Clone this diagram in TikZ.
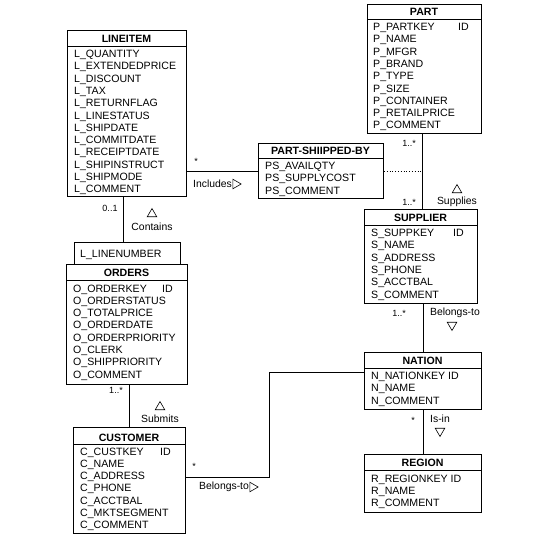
\documentclass[tikz,border=0pt]{standalone}
\usepackage{fontspec}
\setmainfont{Liberation Sans}
\usetikzlibrary{shapes.geometric}

\tikzset{
  entity/.style={draw, line width=0.9pt, anchor=north west, inner sep=0pt},
  header/.style={font=\fontsize{10.6}{12}\selectfont\bfseries, anchor=base, inner sep=0pt},
  field/.style={font=\fontsize{10.6}{12}\selectfont, anchor=base west, inner sep=0pt},
  role/.style={font=\fontsize{10.4}{12}\selectfont, inner sep=0pt},
  mult/.style={font=\fontsize{9}{10}\selectfont, inner sep=0pt},
  tri/.style={draw, line width=0.6pt, regular polygon, regular polygon sides=3, minimum size=11pt, inner sep=0pt},
  link/.style={line width=0.8pt}
}

\begin{document}
\begin{tikzpicture}[x=1pt, y=-1pt]
    \useasboundingbox (0,0) rectangle (541,554);
    % LINEITEM
    \node[entity, minimum width=119pt, minimum height=166pt] (lineitem) at (67,30) {};
    \draw[line width=0.9pt] (67,46) -- (186,46);
    \node[header] at (126.5,42) {LINEITEM};
    \foreach \f [count=\i from 0] in {L\_QUANTITY, L\_EXTENDEDPRICE, L\_DISCOUNT, L\_TAX, L\_RETURNFLAG, L\_LINESTATUS, L\_SHIPDATE, L\_COMMITDATE, L\_RECEIPTDATE, L\_SHIPINSTRUCT, L\_SHIPMODE, L\_COMMENT}
    \node[field] at (74,{57.5+12.3*\i}) {\f};
    % PART
    \node[entity, minimum width=114pt, minimum height=129pt] (part) at (367,4) {};
    \draw[line width=0.9pt] (367,19) -- (481,19);
    \node[header] at (424,15) {PART};
    \foreach \f [count=\i from 0] in {P\_PARTKEY, P\_NAME, P\_MFGR, P\_BRAND, P\_TYPE, P\_SIZE, P\_CONTAINER, P\_RETAILPRICE, P\_COMMENT}
    \node[field] at (373,{30.5+12.3*\i}) {\f};
    \node[field] at (458,30.5) {ID};
    % PART-SHIIPPED-BY
    \node[entity, minimum width=125pt, minimum height=55pt] (psb) at (258,143) {};
    \draw[line width=0.9pt] (258,158) -- (383,158);
    \node[header] at (320.5,154.5) {PART-SHIIPPED-BY};
    \foreach \f [count=\i from 0] in {PS\_AVAILQTY, PS\_SUPPLYCOST, PS\_COMMENT}
    \node[field] at (265,{169.5+12.3*\i}) {\f};
    % SUPPLIER
    \node[entity, minimum width=113pt, minimum height=94pt] (supplier) at (364,209) {};
    \draw[line width=0.9pt] (364,225) -- (477,225);
    \node[header] at (420.5,221) {SUPPLIER};
    \foreach \f [count=\i from 0] in {S\_SUPPKEY, S\_NAME, S\_ADDRESS, S\_PHONE, S\_ACCTBAL, S\_COMMENT}
    \node[field] at (371,{236.5+12.3*\i}) {\f};
    \node[field] at (453,236.5) {ID};
    % L_LINENUMBER
    \node[entity, minimum width=106pt, minimum height=22pt] (linenumber) at (74,242) {};
    \node[field] at (80,257) {L\_LINENUMBER};
    % ORDERS
    \node[entity, minimum width=121pt, minimum height=120pt] (orders) at (66,264) {};
    \draw[line width=0.9pt] (66,280) -- (187,280);
    \node[header] at (126.5,276.5) {ORDERS};
    \foreach \f [count=\i from 0] in {O\_ORDERKEY, O\_ORDERSTATUS, O\_TOTALPRICE, O\_ORDERDATE, O\_ORDERPRIORITY, O\_CLERK, O\_SHIPPRIORITY, O\_COMMENT}
    \node[field] at (73,{292+12.3*\i}) {\f};
    \node[field] at (162,292) {ID};
    % CUSTOMER
    \node[entity, minimum width=112pt, minimum height=106pt] (customer) at (73,427) {};
    \draw[line width=0.9pt] (73,444) -- (185,444);
    \node[header] at (129,441) {CUSTOMER};
    \foreach \f [count=\i from 0] in {C\_CUSTKEY, C\_NAME, C\_ADDRESS, C\_PHONE, C\_ACCTBAL, C\_MKTSEGMENT, C\_COMMENT}
    \node[field] at (80,{455+12.3*\i}) {\f};
    \node[field] at (160,455) {ID};
    % NATION
    \node[entity, minimum width=117pt, minimum height=57pt] (nation) at (364,352) {};
    \draw[line width=0.9pt] (364,368) -- (481,368);
    \node[header] at (422.5,364.5) {NATION};
    \foreach \f [count=\i from 0] in {N\_NATIONKEY ID, N\_NAME, N\_COMMENT}
    \node[field] at (371,{379.5+12.3*\i}) {\f};
    % REGION
    \node[entity, minimum width=117pt, minimum height=58pt] (region) at (364,454) {};
    \draw[line width=0.9pt] (364,470) -- (481,470);
    \node[header] at (422.5,466.5) {REGION};
    \foreach \f [count=\i from 0] in {R\_REGIONKEY ID, R\_NAME, R\_COMMENT}
    \node[field] at (371,{482+12.3*\i}) {\f};

    % associations
    \coordinate (ps) at ([xshift=-2pt]part.south);
    \draw[link] (psb.west) -- (psb.west -| lineitem.east);
    \draw[link] (ps) -- (ps |- supplier.north);
    \draw[link, dotted] (psb.east) -- (psb.east -| ps);
    \draw[link] ([xshift=-4pt]linenumber.north) -- ([xshift=-4pt]linenumber.north |- lineitem.south);
    \draw[link] (customer.north) -- (customer.north |- orders.south);
    \draw[link] (nation.north) -- (nation.north |- supplier.south);
    \draw[link] (region.north) -- (region.north |- nation.south);
    \coordinate (bend) at (269,372);
    \draw[link] ([yshift=3pt]customer.east) -| (bend) -- (bend -| nation.west);

    % labels
    \node[mult] at (196,161) {*};
    \node[role, anchor=west] (inc) at (193,184) {Includes};
    \node[tri, shape border rotate=-90] at ([xshift=3.5pt]inc.east) {};
    \node[mult] at (409,143) {1..*};
    \node[mult] at (409,202) {1..*};
    \node[tri] at (457,190) {};
    \node[role] at (457,202) {Supplies};
    \node[mult] at (110,208) {0..1};
    \node[tri] at (152,214) {};
    \node[role] at (152,227) {Contains};
    \node[mult] at (116,390) {1..*};
    \node[tri] at (160,407) {};
    \node[role] at (160,419) {Submits};
    \node[mult] at (194,466) {*};
    \node[role, anchor=west] (belongs) at (199,487) {Belongs-to};
    \node[tri, shape border rotate=-90] at ([xshift=3.5pt]belongs.east) {};
    \node[mult] at (399,313) {1..*};
    \node[role] at (455,313) {Belongs-to};
    \node[tri, shape border rotate=180] at (452,325) {};
    \node[mult] at (413,420) {*};
    \node[role] at (440,419) {Is-in};
    \node[tri, shape border rotate=180] at (440,431) {};
\end{tikzpicture}
\end{document}
